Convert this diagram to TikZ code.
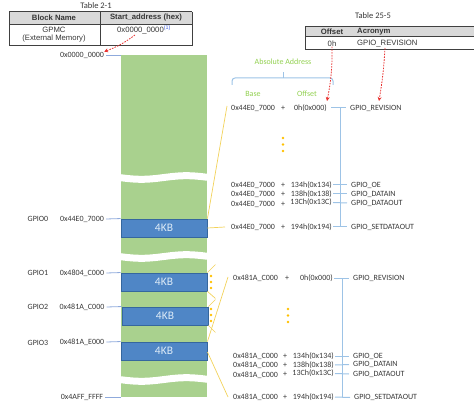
\documentclass[tikz,border=0pt]{standalone}
\usepackage{fontspec}
\setmainfont{Carlito}
\newfontfamily\arialf{Liberation Sans}
\usetikzlibrary{arrows.meta}
\definecolor{txt}{HTML}{363636}
\definecolor{barg}{HTML}{A9D18E}
\definecolor{boxb}{HTML}{4F86C6}
\definecolor{boxe}{HTML}{35679E}
\definecolor{boxt}{HTML}{DDEBF7}
\definecolor{linb}{HTML}{9DC3E6}
\definecolor{labl}{HTML}{8FAADC}
\definecolor{yel}{HTML}{F2D25A}
\definecolor{dotc}{HTML}{FFC000}
\definecolor{grn}{HTML}{92D050}
\definecolor{redc}{HTML}{E8312F}
\definecolor{hdr}{HTML}{D9D9D9}
\definecolor{tline}{HTML}{404040}
\definecolor{supb}{HTML}{3B5BDB}
\tikzset{
  lbl/.style={font=\fontsize{8}{9}\selectfont, text=txt, inner sep=0pt},
  ttl/.style={font=\fontsize{8.5}{10}\selectfont, text=txt, inner sep=0pt},
  tbl/.style={font=\arialf\fontsize{7.7}{9}\selectfont, text=txt, inner sep=0pt},
  tblb/.style={font=\arialf\bfseries\fontsize{7.7}{9}\selectfont, text=txt, inner sep=0pt},
  grnlbl/.style={font=\fontsize{8}{9}\selectfont, text=grn, inner sep=0pt},
  kb/.style={draw=boxe, fill=boxb, line width=0.9pt, minimum width=86pt, minimum height=18pt, inner sep=0pt, text=boxt, font=\fontsize{11.5}{12}\selectfont},
  lab/.style={draw=labl, line width=0.8pt},
  bl/.style={draw=linb, line width=1pt},
  yl/.style={draw=yel, line width=0.7pt},
  redarr/.style={draw=redc, line width=0.8pt, dash pattern=on 1.6pt off 1.2pt, -{Stealth[length=4pt,width=4pt]}},
  tln/.style={draw=tline, line width=1pt},
}
\newcommand{\wavebreak}[1]{%
  \fill[white] plot[domain=119:209,samples=40,smooth] (\x,{#1+1.8*sin((\x-119)/90*360)})
   -- plot[domain=209:119,samples=40,smooth] (\x,{#1+7+1.8*sin((\x-119)/90*360)}) -- cycle;}
\begin{document}
\begin{tikzpicture}[x=1pt,y=-1pt]
\useasboundingbox (0,0) rectangle (474,406);
% ---------- left table ----------
\node[ttl] (t21) at (96,6) {Table 2-1};
\fill[hdr] (9,12) rectangle (192,24);
\draw[tln] (9,12) -- (192,12);
\draw[tline, line width=0.6pt] (9,24) -- (192,24);
\draw[tln] (9,46) -- (192,46);
\draw[tline, line width=0.8pt] (9,12) -- (9,46);
\draw[tline, line width=0.8pt] (100,12) -- (100,46);
\draw[tline, line width=0.8pt] (192,12) -- (192,46);
\node[tblb] (hb) at (54,18) {Block Name};
\node[tblb] (hs) at (146,18) {Start\_address (hex)};
\node[tbl] (gpmc) at (54,29.5) {GPMC};
\node[tbl] (extm) at (54,39) {(External Memory)};
\node[tbl] (tval) at (144,29.5) {0x0000\_0000\textcolor{supb}{\textsuperscript{(1)}}};
% ---------- memory bar ----------
\fill[barg] (121,55) rectangle (207,397);
\wavebreak{174}
\wavebreak{253}
\wavebreak{376}
\node[kb] (k0) at (164,228) {4KB};
\node[kb] (k1) at (164,282) {4KB};
\node[kb] (k2) at (165,316) {4KB};
\node[kb] (k3) at (164,351) {4KB};
\coordinate (bar0) at (121,55);
\coordinate (barE) at (121,397);
% ---------- left labels ----------
\node[lbl] (a0) at (82,55) {0x0000\_0000};
\node[lbl] (g0) at (38,219) {GPIO0};
\node[lbl] (a1) at (82,219) {0x44E0\_7000};
\node[lbl] (g1) at (38,273) {GPIO1};
\node[lbl] (a2) at (82,273) {0x4804\_C000};
\node[lbl] (g2) at (38,307) {GPIO2};
\node[lbl] (a3) at (82,307) {0x481A\_C000};
\node[lbl] (g3) at (38,343) {GPIO3};
\node[lbl] (a4) at (82,342) {0x481A\_E000};
\node[lbl] (a5) at (82,397) {0x4AFF\_FFFF};
\draw[lab] ([xshift=2pt]a0.east) -- (bar0);
\draw[lab] ([xshift=2pt]a1.east) -- (k0.north west);
\draw[lab] ([xshift=2pt]a2.east) -- (k1.north west);
\draw[lab] ([xshift=2pt]a3.east) -- (k2.north west);
\draw[lab] ([xshift=2pt]a4.east) -- (k3.north west);
\draw[lab] ([xshift=2pt]a5.east) -- (barE);
\draw[redarr] (135,35) to[bend left=8] (a0.north east);
% ---------- right table ----------
\node[ttl] (t255) at (373,16) {Table 25-5};
\fill[hdr] (305,27) rectangle (474,36.5);
\draw[tln] (305,27) -- (474,27);
\draw[tline, line width=0.5pt] (305,36.5) -- (474,36.5);
\draw[tln] (305,50) -- (474,50);
\draw[tline, line width=0.8pt] (305,27) -- (305,50);
\node[tblb] (ho) at (332,32) {Offset};
\node[tblb, anchor=west] (ha) at (357,32) {Acronym};
\node[tbl] (r0) at (332,43.5) {0h};
\node[tbl, anchor=west] (rr) at (357,43.5) {GPIO\_REVISION};
% ---------- absolute address brace ----------
\node[grnlbl] (absa) at (283,62) {Absolute Address};
\draw[bl, rounded corners=3pt] (232,85) -- (232,78) -- (333,78) -- (333,85);
\draw[bl] (283,78) -- (283,72);
\node[grnlbl] (base) at (253,94) {Base};
\node[grnlbl] (offs) at (307,94) {Offset};
% ---------- group 1 ----------
\node[lbl, anchor=west] (b10) at (231,108) {0x44E0\_7000};
\node[lbl] (p10) at (283,108) {+};
\node[lbl, anchor=east] (o10) at (327,108) {0h(0x000)};
\node[lbl, anchor=west] (n10) at (350,108) {GPIO\_REVISION};
\node[lbl, anchor=west] (b11) at (231,185) {0x44E0\_7000};
\node[lbl] (p11) at (283,185) {+};
\node[lbl, anchor=east] (o11) at (332,185) {134h(0x134)};
\node[lbl, anchor=west] (n11) at (351,185) {GPIO\_OE};
\node[lbl, anchor=west] (b12) at (231,194) {0x44E0\_7000};
\node[lbl] (p12) at (283,194) {+};
\node[lbl, anchor=east] (o12) at (332,194) {138h(0x138)};
\node[lbl, anchor=west] (n12) at (351,194) {GPIO\_DATAIN};
\node[lbl, anchor=west] (b13) at (231,204) {0x44E0\_7000};
\node[lbl] (p13) at (283,204) {+};
\node[lbl, anchor=east] (o13) at (332,202.5) {13Ch(0x13C)};
\node[lbl, anchor=west] (n13) at (351,203) {GPIO\_DATAOUT};
\node[lbl, anchor=west] (b14) at (231,227) {0x44E0\_7000};
\node[lbl] (p14) at (283,227) {+};
\node[lbl, anchor=east] (o14) at (332,227) {194h(0x194)};
\node[lbl, anchor=west] (n14) at (351,227) {GPIO\_SETDATAOUT};
\draw[bl] (340,108) -- (340,227);
\draw[bl] ([xshift=4pt]o10.east) -- ([xshift=-4pt]n10.west);
\draw[bl] ([xshift=1pt]o11.east) -- ([xshift=-4pt]n11.west);
\draw[bl] ([xshift=1pt]o12.east) -- ([xshift=-4pt]n12.west);
\draw[bl] ([xshift=1pt]o13.east) -- ([xshift=-4pt]n13.west);
\draw[bl] ([xshift=1pt]o14.east) -- ([xshift=-4pt]n14.west);
\foreach \yy in {138,144.5,151} \fill[dotc] (283,\yy) circle (1.4pt);
% ---------- group 2 ----------
\node[lbl, anchor=west] (b20) at (233,278) {0x481A\_C000};
\node[lbl] (p20) at (287,278) {+};
\node[lbl, anchor=east] (o20) at (333,278) {0h(0x000)};
\node[lbl, anchor=west] (n20) at (353,278) {GPIO\_REVISION};
\node[lbl, anchor=west] (b21) at (233,356) {0x481A\_C000};
\node[lbl] (p21) at (285,356) {+};
\node[lbl, anchor=east] (o21) at (334,356) {134h(0x134)};
\node[lbl, anchor=west] (n21) at (353,356) {GPIO\_OE};
\node[lbl, anchor=west] (b22) at (233,365) {0x481A\_C000};
\node[lbl] (p22) at (285,365) {+};
\node[lbl, anchor=east] (o22) at (334,365) {138h(0x138)};
\node[lbl, anchor=west] (n22) at (353,364.5) {GPIO\_DATAIN};
\node[lbl, anchor=west] (b23) at (233,375) {0x481A\_C000};
\node[lbl] (p23) at (285,374) {+};
\node[lbl, anchor=east] (o23) at (334,373.5) {13Ch(0x13C)};
\node[lbl, anchor=west] (n23) at (353,374) {GPIO\_DATAOUT};
\node[lbl, anchor=west] (b24) at (233,397) {0x481A\_C000};
\node[lbl] (p24) at (285,397) {+};
\node[lbl, anchor=east] (o24) at (334,397) {194h(0x194)};
\node[lbl, anchor=west] (n24) at (354,397.5) {GPIO\_SETDATAOUT};
\draw[bl] (342,278) -- (342,397);
\draw[bl] ([xshift=1pt]o20.east) -- ([xshift=-4pt]n20.west);
\draw[bl] ([xshift=1pt]o21.east) -- ([xshift=-4pt]n21.west);
\draw[bl] ([xshift=1pt]o22.east) -- ([xshift=-4pt]n22.west);
\draw[bl] ([xshift=1pt]o23.east) -- ([xshift=-4pt]n23.west);
\draw[bl] ([xshift=1pt]o24.east) -- ([xshift=-4pt]n24.west);
\foreach \yy in {309,315.5,322} \fill[dotc] (288,\yy) circle (1.4pt);
% ---------- yellow fan lines ----------
\draw[yl] (k0.north east) -- ([xshift=-4pt,yshift=2pt]b10.west);
\draw[yl] (k0.east) -- ([xshift=-6pt]b14.west);
\draw[yl] (k1.north east) -- +(8,-8);
\draw[yl] (k1.south east) -- +(8,7);
\draw[yl] (k2.north east) -- +(7,-7);
\draw[yl] (k2.south east) -- +(7,7);
\draw[yl] (k3.north east) -- ([xshift=-5pt,yshift=1pt]b20.west);
\draw[yl] ([yshift=-1pt]k3.east) -- ([xshift=-5pt]b24.west);
\foreach \yy in {276,282,288} \fill[dotc] (211,\yy) circle (1.3pt);
\foreach \yy in {309,315,321} \fill[dotc] (211,\yy) circle (1.3pt);
% ---------- red arrows from table 25-5 ----------
\draw[redarr] (r0.south) to[bend left=6] (327,101);
\draw[redarr] (385,48) to[bend left=3] (379,101);
\end{tikzpicture}
\end{document}
